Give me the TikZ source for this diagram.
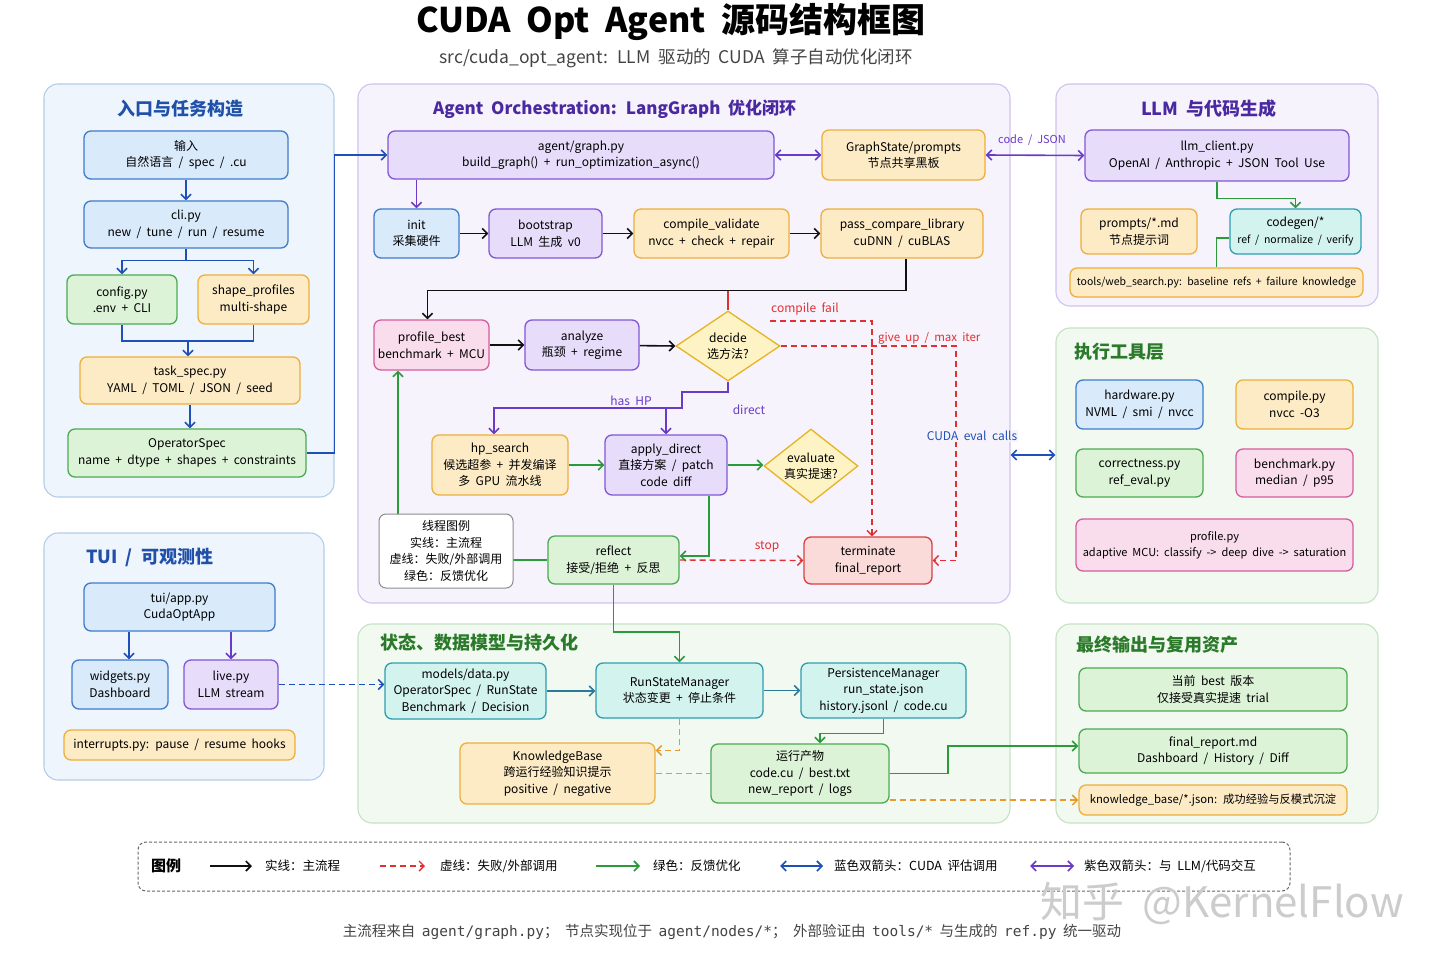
\documentclass[tikz,border=0pt]{standalone}
\usepackage{fontspec}
\setmainfont{Noto Sans CJK SC}[WordSpace=2]
\newfontfamily\mono{DejaVu Sans Mono}
\usetikzlibrary{arrows.meta,shapes.geometric,calc}
\pgfdeclarelayer{back}
\pgfdeclarelayer{lines}
\pgfsetlayers{back,lines,main}
\definecolor{blueF}{HTML}{D9EAFB}\definecolor{blueD}{HTML}{3F7CC9}
\definecolor{purF}{HTML}{E7DDFB}\definecolor{purD}{HTML}{8257D6}
\definecolor{oraF}{HTML}{FDEBC6}\definecolor{oraD}{HTML}{EEAF3C}
\definecolor{grnF}{HTML}{DCF3D8}\definecolor{grnD}{HTML}{4DAA52}
\definecolor{pinkF}{HTML}{FADDEC}\definecolor{pinkD}{HTML}{D65C9C}
\definecolor{tealF}{HTML}{D3F3EF}\definecolor{tealD}{HTML}{2E9DB0}
\definecolor{redF}{HTML}{FBDADA}\definecolor{redD}{HTML}{D94040}
\definecolor{yelF}{HTML}{FDF3C4}\definecolor{yelD}{HTML}{E6B422}
\definecolor{pbF}{HTML}{EEF5FD}\definecolor{pbD}{HTML}{B5CDEA}
\definecolor{ppF}{HTML}{F6F3FD}\definecolor{ppD}{HTML}{CFC3EE}
\definecolor{pgF}{HTML}{F1F9F1}\definecolor{pgD}{HTML}{C5E2C5}
\definecolor{cBlk}{HTML}{111111}\definecolor{cRed}{HTML}{E03030}
\definecolor{cGrn}{HTML}{2A9A3A}\definecolor{cBlue}{HTML}{1F4FB8}
\definecolor{cPur}{HTML}{6A3AC8}\definecolor{cTeal}{HTML}{2A7A9A}
\definecolor{cOra}{HTML}{E89A30}
\definecolor{tBlue}{HTML}{2050A8}\definecolor{tPur}{HTML}{4A28A0}
\definecolor{tGrn}{HTML}{2A7A2A}\definecolor{subG}{HTML}{444444}
\newcommand\bx[7]{\node[#2, minimum width={(#5)-(#3)}, minimum height={(#6)-(#4)}] (#1) at ({((#3)+(#5))/2},{((#4)+(#6))/2}) {#7};}
\begin{document}
\begin{tikzpicture}[x=1pt,y=-1pt,
  >={Straight Barb[length=5pt,width=10pt]},
  nd/.style={rounded corners=7pt, line width=1.3pt, align=center, inner sep=2pt, font=\fontsize{12}{16.5}\selectfont},
  nblue/.style={nd, fill=blueF, draw=blueD},
  npur/.style={nd, fill=purF, draw=purD},
  nora/.style={nd, fill=oraF, draw=oraD},
  ngrn/.style={nd, fill=grnF, draw=grnD},
  npink/.style={nd, fill=pinkF, draw=pinkD},
  nteal/.style={nd, fill=tealF, draw=tealD},
  nred/.style={nd, fill=redF, draw=redD},
  ndia/.style={diamond, aspect=1.5, inner sep=0pt, line width=1.3pt, fill=yelF, draw=yelD, align=center, font=\fontsize{12}{16}\selectfont},
  pan/.style={rounded corners=14pt, line width=1.1pt},
  ttl/.style={inner sep=0pt, font=\fontsize{18}{20}\selectfont\bfseries},
  lbl/.style={inner sep=1pt, font=\fontsize{12}{14}\selectfont},
  ablk/.style={draw=cBlk, line width=1.6pt},
  ared/.style={draw=cRed, line width=1.4pt},
  agrn/.style={draw=cGrn, line width=1.6pt},
  ablue/.style={draw=cBlue, line width=1.6pt},
  apur/.style={draw=cPur, line width=1.6pt},
  ateal/.style={draw=cTeal, line width=1.6pt},
  aora/.style={draw=cOra, line width=1.5pt},
  dsh/.style={dash pattern=on 6pt off 4pt},
  legtxt/.style={inner sep=0pt, anchor=west, font=\fontsize{12.5}{14}\selectfont}
]
\useasboundingbox (0,0) rectangle (1440,960);
\begin{pgfonlayer}{back}
\fill[white] (0,0) rectangle (1440,960);
\bx{P1}{pan,fill=pbF,draw=pbD}{44}{84}{334}{497}{}
\bx{P2}{pan,fill=ppF,draw=ppD}{358}{84}{1010}{603}{}
\bx{P3}{pan,fill=ppF,draw=ppD}{1056}{84}{1378}{306}{}
\bx{P4}{pan,fill=pgF,draw=pgD}{1056}{328}{1378}{603}{}
\bx{P5}{pan,fill=pbF,draw=pbD}{44}{533}{324}{780}{}
\bx{P6}{pan,fill=pgF,draw=pgD}{358}{624}{1010}{823}{}
\bx{P7}{pan,fill=pgF,draw=pgD}{1056}{624}{1378}{823}{}
\end{pgfonlayer}

% titles
\node[inner sep=0pt, font=\fontsize{34}{38}\selectfont\bfseries] (title) at (671,22) {CUDA Opt Agent 源码结构框图};
\node[inner sep=0pt, font=\fontsize{17.5}{20}\selectfont, text=subG] (sub) at (676,58) {src/cuda\_opt\_agent: LLM 驱动的 CUDA 算子自动优化闭环};
\node[ttl,text=tBlue] (t1) at (180,109) {入口与任务构造};
\node[ttl,text=tPur,anchor=west,font=\fontsize{17}{20}\selectfont\bfseries] (t2) at (433,109) {Agent Orchestration: LangGraph 优化闭环};
\node[ttl,text=tPur] (t3) at (1209,109) {LLM 与代码生成};
\node[ttl,text=tGrn,anchor=west] (t4) at (1074,352) {执行工具层};
\node[ttl,text=tBlue,anchor=west] (t5) at (86,557) {TUI / 可观测性};
\node[ttl,text=tGrn,anchor=west] (t6) at (380,643) {状态、数据模型与持久化};
\node[ttl,text=tGrn,anchor=west] (t7) at (1076,645) {最终输出与复用资产};

% panel 1
\bx{in}{nblue}{84}{131}{288}{179}{输入\\自然语言 / spec / .cu}
\bx{cli}{nblue}{84}{201}{288}{248}{cli.py\\new / tune / run / resume}
\bx{cfg}{ngrn}{67}{275}{177}{324}{config.py\\.env + CLI}
\bx{shp}{nora}{198}{275}{309}{324}{shape\_profiles\\multi-shape}
\bx{task}{nora}{80}{357}{300}{404}{task\_spec.py\\YAML / TOML / JSON / seed}
\bx{ops}{ngrn}{68}{429}{306}{477}{OperatorSpec\\name + dtype + shapes + constraints}

% panel 2
\bx{graph}{npur}{388}{131}{774}{179}{agent/graph.py\\build\_graph() + run\_optimization\_async()}
\bx{gs}{nora}{822}{130}{985}{180}{GraphState/prompts\\节点共享黑板}
\bx{init}{nblue}{374}{209}{459}{258}{init\\采集硬件}
\bx{boot}{npur}{489}{209}{602}{258}{bootstrap\\LLM 生成 v0}
\bx{comp}{nora}{634}{209}{789}{258}{compile\_validate\\nvcc + check + repair}
\bx{pass}{nora}{821}{209}{983}{258}{pass\_compare\_library\\cuDNN / cuBLAS}
\bx{prof}{npink}{374}{320}{489}{370}{profile\_best\\benchmark + MCU}
\bx{ana}{npur}{525}{320}{639}{370}{analyze\\瓶颈 + regime}
\node[ndia, minimum width=104pt, minimum height=70pt] (dec) at (728,346) {decide\\选方法?};
\bx{hp}{nora}{432}{435}{568}{495}{hp\_search\\候选超参 + 并发编译\\多 GPU 流水线}
\bx{app}{npur}{605}{435}{727}{495}{apply\_direct\\直接方案 / patch\\code diff}
\node[ndia, minimum width=94pt, minimum height=74pt] (eval) at (811,466) {evaluate\\真实提速?};
\bx{leg}{nd,fill=white,draw=black!45,line width=1pt}{379}{514}{513}{588}{线程图例\\实线：主流程\\虚线：失败/外部调用\\绿色：反馈优化}
\bx{refl}{ngrn}{548}{536}{679}{584}{reflect\\接受/拒绝 + 反思}
\bx{term}{nred}{804}{537}{932}{584}{terminate\\final\_report}

% panel 3
\bx{llm}{npur}{1085}{130}{1349}{181}{llm\_client.py\\OpenAI / Anthropic + JSON Tool Use}
\bx{pr}{nora}{1081}{209}{1197}{254}{prompts/*.md\\节点提示词}
\bx{cg}{nteal}{1230}{209}{1361}{254}{codegen/*\\{\fontsize{10.5}{14}\selectfont ref / normalize / verify}}
\bx{ws}{nora,font=\fontsize{10.5}{14}\selectfont}{1070}{268}{1363}{297}{tools/web\_search.py: baseline refs + failure knowledge}

% panel 4
\bx{hw}{nblue}{1076}{380}{1203}{429}{hardware.py\\NVML / smi / nvcc}
\bx{cp}{nora}{1236}{380}{1353}{429}{compile.py\\nvcc -O3}
\bx{cor}{ngrn}{1076}{449}{1203}{497}{correctness.py\\ref\_eval.py}
\bx{bm}{npink}{1236}{449}{1353}{497}{benchmark.py\\median / p95}
\bx{pf}{npink,font=\fontsize{11}{16}\selectfont}{1076}{519}{1353}{571}{profile.py\\adaptive MCU: classify -> deep dive -> saturation}

% panel 5
\bx{tui}{nblue}{84}{583}{275}{631}{tui/app.py\\CudaOptApp}
\bx{wid}{nblue}{72}{660}{168}{709}{widgets.py\\Dashboard}
\bx{live}{npur}{184}{660}{278}{709}{live.py\\LLM stream}
\bx{intr}{nora}{64}{730}{295}{760}{interrupts.py: pause / resume hooks}

% panel 6
\bx{mod}{nteal}{385}{663}{546}{719}{models/data.py\\OperatorSpec / RunState\\Benchmark / Decision}
\bx{rsm}{nteal}{596}{663}{763}{718}{RunStateManager\\状态变更 + 停止条件}
\bx{pm}{nteal}{801}{663}{966}{718}{PersistenceManager\\run\_state.json\\history.jsonl / code.cu}
\bx{kb}{nora}{460}{743}{655}{804}{KnowledgeBase\\跨运行经验知识提示\\positive / negative}
\bx{art}{ngrn}{711}{744}{889}{803}{运行产物\\code.cu / best.txt\\new\_report / logs}

% panel 7
\bx{best}{ngrn}{1079}{668}{1347}{711}{当前 best 版本\\仅接受真实提速 trial}
\bx{fr}{ngrn}{1079}{729}{1347}{773}{final\_report.md\\Dashboard / History / Diff}
\bx{kbj}{nora,font=\fontsize{11.3}{14}\selectfont}{1079}{785}{1347}{815}{knowledge\_base/*.json: 成功经验与反模式沉淀}

% connectors
\begin{pgfonlayer}{lines}
% panel 1
\draw[ablue,->] (in.south) -- (cli.north);
\draw[ablue,->] (cli.south) -- ++(0,12) -| (cfg.north);
\draw[ablue,->] (cli.south) -- ++(0,12) -| (shp.north);
\coordinate (m1) at (188,341);
\draw[ablue] (cfg.south) |- (m1) -| (shp.south);
\draw[ablue,->] (m1) -- (m1 |- task.north);
\draw[ablue,->] (task.south) -- (task.south |- ops.north);
\draw[ablue,->] (ops.east) -- ++(28,0) |- (graph.west);
% panel 2
\draw[apur,<->] (graph.east) -- (gs.west);
\draw[apur,<->] (gs.east) -- (llm.west);
\draw[apur,->] (init.north |- graph.south) -- (init.north);
\draw[ablk,->] (init) -- (boot);
\draw[ablk,->] (boot) -- (comp);
\draw[ablk,->] (comp) -- (pass);
\draw[ablk,->] ([xshift=4pt]pass.south) -- ++(0,32) -| ([xshift=-4pt]prof.north);
\draw[ared] (dec.north |- 0,291) -- (dec.north);
\coordinate (cf) at (770,321);
\draw[ared,dsh,->] (cf) -| ([xshift=4pt]term.north);
\draw[ared,dsh,->] (dec.east) -- (956,346) |- (term.east);
\draw[ablk,->] (prof) -- (ana);
\draw[ablk,->] (ana) -- (dec.west);
\draw[apur,->] (dec.south) |- (682,392) -- (682,408) -| ([xshift=-6pt]hp.north);
\draw[apur,->] (app.north |- 0,408) -- (app.north);
\draw[agrn,->] (hp.east) -- (app.west);
\draw[agrn,->] (app.east) -- (app.east -| eval.west);
\draw[agrn,->] ([xshift=43pt]app.south) |- ([yshift=4pt]refl.east);
\draw[ared,dsh,->] (refl.east) -- (term.west);
\draw[agrn,->] (refl.west) -| ([xshift=-33.5pt]prof.south);
\draw[agrn,->] (refl.south) |- (rsm.north |- 0,632) -- (rsm.north);
\draw[draw=cBlue,line width=1.6pt,<->] (P2.east |- 0,455) -- (P4.west |- 0,455);
% panel 3
\draw[agrn,->] (llm.south) -- ++(0,17) -| (cg.north);
\draw[agrn] (ws.north) |- ([yshift=-6.5pt]cg.west);
% panel 5
\draw[ablue,->] ([xshift=9pt]wid.north |- tui.south) -- ([xshift=9pt]wid.north);
\draw[apur,->] (live.north |- tui.south) -- (live.north);
\draw[ablue,dsh,->] (live.east) -- (live.east -| mod.west);
% panel 6
\draw[ateal,->] (mod.east) -- (mod.east -| rsm.west);
\draw[ateal,->] (rsm.east) -- (rsm.east -| pm.west);
\draw[aora,dsh,->] (rsm.south) |- ([yshift=23pt]kb.east);
\draw[agrn,->] (pm.south) -- ++(0,15) -| ([xshift=20pt]art.north);
\draw[aora,dsh] (kb.east) -- (art.west);
\draw[agrn,->] (art.east) -- (948,773.5) |- ([yshift=5pt]fr.west);
\draw[aora,dsh,->] (art.east |- kbj.west) -- (kbj.west);
\end{pgfonlayer}

% connector labels
\node[lbl,text=cPur,font=\fontsize{11}{13}\selectfont] (lcj) at (1032,140) {code / JSON};
\node[lbl,text=cRed,anchor=west] (lcf) at (770,309) {compile fail};
\node[lbl,text=cRed,anchor=west,font=\fontsize{11.5}{14}\selectfont] (lgu) at (877,338) {give up / max iter};
\node[lbl,text=cPur] (lhp) at (631,401) {has HP};
\node[lbl,text=cPur] (ldr) at (749,410) {direct};
\node[lbl,text=cRed] (lst) at (767,547) {stop};
\node[lbl,text=cBlue,fill=ppF] (lce) at (972,436) {CUDA eval calls};

% legend
\bx{legend}{draw=black!60, line width=1pt, dash pattern=on 3pt off 2pt, rounded corners=8pt, fill=white}{138}{842}{1290}{891}{}
\node[legtxt,font=\fontsize{15}{16}\selectfont\bfseries] (lg0) at (151,866) {图例};
\coordinate (la1) at (210,866); \coordinate (lb1) at (252,866);
\draw[ablk,->] (la1) -- (lb1);
\node[legtxt] (lg1) at (265,866) {实线：主流程};
\coordinate (la2) at (380,866); \coordinate (lb2) at (425,866);
\draw[ared,dsh,->] (la2) -- (lb2);
\node[legtxt] (lg2) at (440,866) {虚线：失败/外部调用};
\coordinate (la3) at (596,866); \coordinate (lb3) at (640,866);
\draw[agrn,->] (la3) -- (lb3);
\node[legtxt] (lg3) at (653,866) {绿色：反馈优化};
\coordinate (la4) at (780,866); \coordinate (lb4) at (823,866);
\draw[draw=cBlue,line width=1.6pt,<->] (la4) -- (lb4);
\node[legtxt] (lg4) at (834,866) {蓝色双箭头：CUDA 评估调用};
\coordinate (la5) at (1030,866); \coordinate (lb5) at (1074,866);
\draw[apur,<->] (la5) -- (lb5);
\node[legtxt] (lg5) at (1084,866) {紫色双箭头：与 LLM/代码交互};

% watermark
\node[inner sep=0pt, text=black!20, font=\fontsize{42}{44}\selectfont] (wm) at (1222,903) {知乎 @KernelFlow};

% footer
\node[inner sep=0pt, text=subG, font=\fontsize{14.5}{17}\selectfont] (foot) at (732,932) {主流程来自 {\mono agent/graph.py}； 节点实现位于 {\mono agent/nodes/*}； 外部验证由 {\mono tools/*} 与生成的 {\mono ref.py} 统一驱动};
\end{tikzpicture}
\end{document}
